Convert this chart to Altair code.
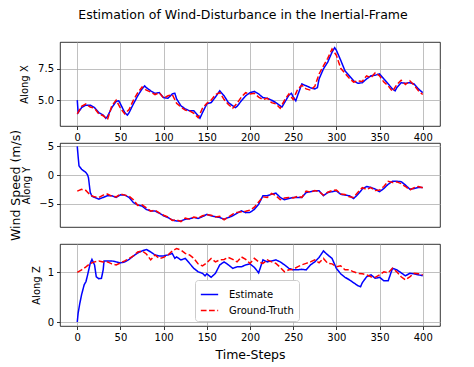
import altair as alt
import pandas as pd

FONT = "DejaVu Sans"
SERIES = ["Estimate", "Ground-Truth"]
X_TICKS = [0, 50, 100, 150, 200, 250, 300, 350, 400]

# ---------------- Along X ----------------
t_x_est = [0, 1, 5, 10, 15, 20, 25, 30, 33, 35, 40, 45, 48, 50, 55, 58, 60, 65, 70, 75, 78, 80,
           85, 90, 95, 100, 105, 110, 113, 115, 120, 125, 130, 135, 140, 142, 145, 150, 155, 160,
           165, 170, 175, 180, 183, 185, 190, 195, 200, 205, 210, 215, 220, 225, 230, 235, 237,
           240, 245, 248, 250, 253, 255, 260, 265, 270, 275, 278, 280, 285, 290, 295, 298, 300,
           305, 310, 315, 320, 325, 330, 335, 340, 345, 350, 355, 360, 365, 368, 370, 375, 380,
           385, 390, 395, 400]
x_est = [5.0, 4.0, 4.4, 4.6, 4.6, 4.4, 4.0, 3.8, 3.55, 3.7, 4.4, 4.9, 4.95, 4.7, 4.0, 3.8, 4.0,
         4.7, 5.35, 5.9, 6.15, 6.0, 5.75, 5.55, 5.6, 5.2, 5.15, 5.5, 5.55, 5.1, 4.55, 4.3, 4.15,
         4.15, 3.75, 3.55, 4.0, 4.7, 4.8, 5.25, 5.75, 5.35, 4.8, 4.55, 4.4, 4.5, 4.95, 5.35, 5.6,
         5.7, 5.5, 5.2, 5.15, 5.0, 4.8, 4.55, 4.45, 4.8, 5.4, 5.55, 5.25, 4.95, 5.35, 6.3, 6.15,
         6.0, 5.9, 6.0, 6.7, 7.5, 8.05, 8.85, 9.2, 9.0, 8.2, 7.35, 6.95, 6.55, 6.35, 6.4, 6.7,
         6.95, 7.0, 7.1, 6.7, 6.3, 5.9, 5.75, 6.0, 6.4, 6.35, 6.4, 6.3, 5.9, 5.6]
t_x_gt = list(range(0, 401, 5))
x_gt = [3.9, 4.5, 4.7, 4.45, 4.35, 3.9, 3.75, 3.45, 4.55, 5.0, 4.35, 3.9, 4.25, 5.0, 5.6, 6.05,
        5.8, 5.65, 5.45, 5.6, 5.15, 5.35, 5.45, 4.75, 4.45, 4.2, 4.15, 3.95, 3.6, 4.35, 4.75,
        5.0, 5.45, 5.6, 5.05, 4.65, 4.35, 4.75, 5.25, 5.6, 5.5, 5.55, 5.25, 5.05, 5.15, 4.8,
        4.7, 4.35, 5.0, 5.5, 5.05, 5.85, 6.2, 5.9, 5.8, 6.1, 7.1, 7.75, 8.35, 9.1, 8.6, 7.55,
        7.15, 6.75, 6.45, 6.55, 6.5, 6.95, 6.8, 7.2, 6.95, 6.45, 6.15, 5.7, 6.25, 6.6, 6.25,
        6.55, 6.2, 5.75, 5.45]

# ---------------- Along Y ----------------
t_y_est = [0, 1, 2, 5, 10, 12, 13, 15, 17, 20, 25, 30, 35, 40, 45, 50, 55, 60, 65, 70, 75, 80,
           85, 90, 95, 100, 105, 110, 115, 120, 125, 130, 135, 140, 145, 150, 155, 160, 165,
           170, 175, 180, 185, 190, 195, 200, 205, 210, 213, 215, 220, 225, 230, 235, 240, 245,
           250, 255, 260, 265, 270, 275, 280, 285, 290, 295, 300, 305, 310, 315, 320, 325, 330,
           335, 340, 345, 350, 355, 360, 365, 370, 375, 380, 385, 390, 395, 400]
y_est = [5.0, 3.2, 1.6, 1.0, 0.45, 0.0, -0.5, -3.0, -3.7, -3.9, -4.2, -3.9, -3.6, -3.6, -3.9,
         -3.45, -3.5, -3.9, -4.8, -5.2, -5.4, -6.0, -6.25, -6.25, -6.65, -7.1, -7.4, -7.85, -8.0,
         -8.0, -7.7, -7.6, -7.4, -7.55, -7.25, -6.85, -7.1, -7.25, -7.4, -7.7, -7.4, -7.1,
         -6.65, -6.25, -6.55, -6.5, -6.0, -5.1, -4.2, -3.6, -3.6, -3.35, -3.15, -3.9, -4.3,
         -4.1, -3.9, -3.9, -3.9, -3.05, -2.9, -2.75, -2.75, -3.6, -3.05, -2.9, -2.75, -3.35,
         -3.5, -3.6, -4.1, -3.35, -2.45, -2.0, -2.15, -2.45, -2.9, -2.35, -1.6, -1.1, -1.1,
         -1.15, -1.75, -2.45, -2.35, -2.15, -2.15]
t_y_gt = list(range(0, 401, 5))
y_gt = [-2.8, -2.5, -2.7, -3.5, -3.8, -3.9, -3.5, -3.3, -3.7, -3.8, -3.3, -3.5, -3.7, -4.3,
        -5.3, -5.2, -5.7, -6.3, -6.1, -6.6, -7.0, -7.3, -7.9, -7.8, -8.1, -7.5, -7.7, -7.3,
        -7.5, -7.1, -6.9, -7.0, -7.3, -7.2, -7.8, -7.3, -6.8, -6.5, -6.4, -6.3, -6.1, -5.6,
        -4.7, -3.8, -3.9, -3.2, -3.6, -4.3, -4.0, -3.9, -4.0, -3.7, -3.9, -2.8, -3.0, -2.7,
        -2.9, -3.5, -3.0, -2.7, -2.6, -3.3, -3.4, -3.8, -3.9, -3.0, -2.2, -2.5, -2.2, -2.7,
        -2.6, -2.0, -1.1, -1.3, -1.2, -1.5, -2.0, -2.6, -2.2, -2.0, -2.2]

# ---------------- Along Z ----------------
t_z_est = [0, 1, 3, 5, 8, 10, 12, 15, 17, 20, 22, 25, 28, 30, 31, 35, 40, 45, 50, 55, 60, 65,
           70, 75, 80, 85, 90, 95, 100, 105, 110, 113, 115, 120, 125, 130, 135, 140, 145, 148,
           150, 155, 160, 165, 170, 175, 180, 185, 190, 195, 200, 205, 210, 215, 220, 225, 230,
           235, 240, 245, 250, 255, 260, 265, 270, 275, 280, 285, 290, 295, 300, 305, 310, 315,
           320, 325, 328, 330, 335, 340, 345, 350, 355, 360, 365, 370, 375, 380, 385, 390, 395,
           400]
z_est = [0.0, 0.18, 0.38, 0.55, 0.75, 0.81, 0.95, 1.18, 1.26, 1.15, 0.91, 0.87, 0.88, 1.05,
         1.23, 1.23, 1.23, 1.21, 1.19, 1.21, 1.26, 1.33, 1.39, 1.43, 1.46, 1.41, 1.35, 1.33,
         1.33, 1.35, 1.38, 1.28, 1.31, 1.25, 1.28, 1.18, 1.08, 1.01, 0.98, 0.93, 0.97, 0.9,
         0.98, 1.15, 1.21, 1.15, 1.08, 1.11, 1.11, 1.15, 1.17, 1.1, 0.99, 1.25, 1.21, 1.23,
         1.25, 1.21, 1.15, 1.08, 1.05, 1.05, 1.06, 1.05, 1.15, 1.21, 1.3, 1.43, 1.35, 1.28,
         1.08, 0.97, 0.9, 0.85, 0.79, 0.73, 0.71, 0.79, 0.91, 0.95, 0.88, 0.9, 0.83, 0.83, 1.08,
         1.05, 0.99, 0.93, 0.98, 0.97, 0.95, 0.93]
t_z_gt = list(range(0, 401, 5))
z_gt = [1.0, 1.05, 1.11, 1.18, 1.21, 1.23, 1.21, 1.21, 1.17, 1.15, 1.19, 1.23, 1.28, 1.33,
        1.41, 1.43, 1.37, 1.25, 1.35, 1.28, 1.3, 1.35, 1.43, 1.48, 1.45, 1.38, 1.35, 1.28,
        1.17, 1.13, 1.19, 1.28, 1.21, 1.25, 1.26, 1.3, 1.26, 1.21, 1.31, 1.26, 1.18, 1.28,
        1.21, 1.18, 1.25, 1.21, 1.18, 1.1, 1.01, 1.05, 1.06, 1.11, 1.15, 1.18, 1.21, 1.25,
        1.19, 1.28, 1.18, 1.17, 1.11, 1.13, 1.05, 1.05, 1.01, 0.98, 0.97, 0.95, 0.91, 0.9,
        0.95, 1.01, 0.99, 1.08, 1.01, 0.91, 0.85, 0.91, 0.98, 0.97, 0.95]

x_scale = alt.Scale(domain=[-20, 420], nice=False, zero=False)
color_scale = alt.Scale(domain=SERIES, range=["#0000ff", "#ff0000"])
dash_scale = alt.Scale(domain=SERIES, range=[[1, 0], [5.7, 2.5]])


def frame(t_e, v_e, t_g, v_g):
    a = pd.DataFrame({"t": t_e, "v": v_e, "s": SERIES[0]})
    b = pd.DataFrame({"t": t_g, "v": v_g, "s": SERIES[1]})
    return pd.concat([a, b], ignore_index=True)


def panel(df, ydom, yticks, yfmt, ytitle, tpad, height, xtitle=None, legend=None):
    x_axis = alt.Axis(values=X_TICKS, title=xtitle, tickSize=3.5, labelPadding=3,
                      titlePadding=6, titleFontSize=12.5)
    y_axis = alt.Axis(values=yticks, format=yfmt, title=ytitle, tickSize=3.5,
                      labelPadding=3, titlePadding=tpad, titleFontSize=10)
    return alt.Chart(df).mark_line(strokeWidth=1.5).encode(
        x=alt.X("t:Q", scale=x_scale, axis=x_axis),
        y=alt.Y("v:Q", scale=alt.Scale(domain=ydom, nice=False, zero=False), axis=y_axis),
        color=alt.Color("s:N", scale=color_scale, legend=legend),
        strokeDash=alt.StrokeDash("s:N", scale=dash_scale, legend=legend),
    ).properties(width=380, height=height)


df_x = frame(t_x_est, x_est, t_x_gt, x_gt)
df_y = frame(t_y_est, y_est, t_y_gt, y_gt)
df_z = frame(t_z_est, z_est, t_z_gt, z_gt)

p1 = panel(df_x, [2.93, 9.66], [5.0, 7.5], ".1f", "Along X", 8, 84)
p2_main = panel(df_y, [-9.05, 5.58], [-5, 0, 5], "d", "Along Y", 7, 84)
p2_label = alt.Chart(df_y).mark_line(opacity=0).encode(
    x=alt.X("t:Q", scale=x_scale, axis=None),
    y=alt.Y("v:Q", scale=alt.Scale(domain=[-9.05, 5.58], nice=False, zero=False),
            axis=alt.Axis(orient="left", title="Wind Speed (m/s)", labels=False, ticks=False,
                          domain=False, grid=False, titlePadding=38, titleFontSize=12.5)),
)
p2 = alt.layer(p2_main, p2_label).resolve_scale(y="independent").properties(width=380, height=84)

leg = alt.Legend(title=None, orient="none", legendX=135, legendY=36, symbolType="stroke",
                 symbolSize=300, symbolStrokeWidth=1.5, labelFontSize=10, labelOffset=10,
                 rowPadding=1, padding=5, strokeColor="#cccccc", fillColor="white",
                 cornerRadius=3)
p3 = panel(df_z, [-0.08, 1.57], [0, 1], "d", "Along Z", 6, 82, xtitle="Time-Steps", legend=leg)

chart = alt.vconcat(p1, p2, p3, spacing=17, bounds="flush").resolve_scale(
    color="independent", strokeDash="independent"
).resolve_legend(color="independent", strokeDash="independent").properties(
    title=alt.TitleParams("Estimation of Wind-Disturbance in the Inertial-Frame", fontSize=12.5,
                          font=FONT, fontWeight="normal", anchor="middle", offset=20,
                          frame="group", color="black", dx=-7),
    padding={"left": 0, "top": 1, "right": 5, "bottom": 0},
).configure_view(stroke="black", strokeWidth=0.8).configure_axis(
    labelFont=FONT, titleFont=FONT, labelFontSize=10, labelColor="black", titleColor="black",
    titleFontWeight="normal", tickColor="black", tickWidth=0.8, gridColor="#b0b0b0",
    gridWidth=0.8, domain=False, grid=True,
).configure_legend(labelFont=FONT, labelColor="black")

chart.save("out.html", embed_options={"renderer": "svg", "actions": False})
